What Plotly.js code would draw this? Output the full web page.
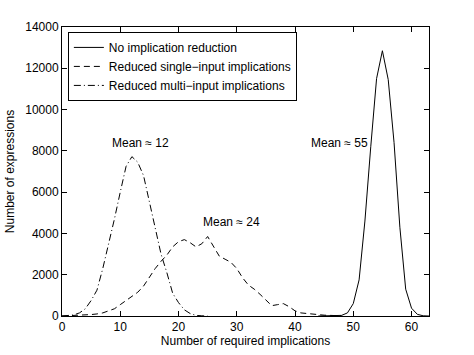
<!DOCTYPE html>
<html>
<head>
<meta charset="utf-8">
<script src="https://cdn.plot.ly/plotly-3.0.1.min.js"></script>
<style>html,body{margin:0;padding:0;background:#fff;}#chart{width:474px;height:355px;}</style>
</head>
<body>
<div id="chart"></div>
<script>
// Number of required implications (x) and number of expressions (y)
const xNoReduction = [44,45,46,47,48,49,50,51,52,53,54,55,56,57,58,59,60,61,62,63];
const yNoReduction = [0,0,0,5,30,150,600,1750,4600,8200,11500,12850,11450,8400,4300,1300,380,80,10,0];

const xSingleInput = [0,1,2,3,4,5,6,7,8,9,10,11,12,13,14,15,16,17,18,19,20,21,22,23,24,25,26,27,28,29,30,31,32,33,34,35,36,37,38,39,40,41,42,43,44,45,46,47,48];
const ySingleInput = [0,10,20,30,50,70,100,150,250,350,550,750,950,1150,1450,1900,2300,2650,2950,3350,3600,3700,3550,3350,3500,3850,3400,2900,2750,2600,2300,1850,1500,1300,1050,750,500,550,600,450,250,150,120,80,50,40,30,20,10];

const xMultiInput = [0,1,2,3,4,5,6,7,8,9,10,11,12,13,14,15,16,17,18,19,20,21,22,23,24,25];
const yMultiInput = [0,10,50,150,350,750,1250,2300,3450,4700,6000,7250,7720,7450,6800,5500,4300,3000,2100,1100,650,300,120,30,10,0];

const seriesNames = ["No implication reduction","Reduced single\u2212input implications","Reduced multi\u2212input implications"];
const meanLabels = ["Mean \u2248 12","Mean \u2248 24","Mean \u2248 55"];
const meanX = [13.5, 29.1, 47.7];
const meanY = [8380, 4550, 8380];

const xTicks = [0,10,20,30,40,50,60];
const yTicks = [0,2000,4000,6000,8000,10000,12000,14000];

const font = {family: "Liberation Sans, Arial, sans-serif", size: 12, color: "#000"};

const traces = [
  {x: xNoReduction, y: yNoReduction, name: seriesNames[0], mode: "lines",
   line: {color: "#000", width: 1, dash: "solid"}},
  {x: xSingleInput, y: ySingleInput, name: seriesNames[1], mode: "lines",
   line: {color: "#000", width: 1, dash: "6px,4px"}},
  {x: xMultiInput, y: yMultiInput, name: seriesNames[2], mode: "lines",
   line: {color: "#000", width: 1, dash: "7px,3px,1px,3px"}}
];

const layout = {
  width: 474, height: 355,
  margin: {l: 62, r: 45, t: 27, b: 39},
  paper_bgcolor: "#fff", plot_bgcolor: "#fff",
  font: font,
  showlegend: true,
  legend: {x: 0.016, y: 0.983, xanchor: "left", yanchor: "top",
    bordercolor: "#000", borderwidth: 1, bgcolor: "#fff",
    font: font, itemwidth: 30, tracegroupgap: 0},
  xaxis: {range: [0, 63], tickvals: xTicks, ticktext: xTicks.map(String),
    ticks: "inside", ticklen: 5, tickcolor: "#000", showline: true, linecolor: "#000", linewidth: 1,
    mirror: "ticks", showgrid: false, zeroline: false,
    title: {text: "Number of required implications", font: font, standoff: 3}},
  yaxis: {range: [0, 14000], tickvals: yTicks, ticktext: yTicks.map(String),
    ticks: "inside", ticklen: 5, tickcolor: "#000", showline: true, linecolor: "#000", linewidth: 1,
    mirror: "ticks", showgrid: false, zeroline: false,
    title: {text: "Number of expressions", font: font, standoff: 8}},
  annotations: meanLabels.map((t, i) => ({x: meanX[i], y: meanY[i], text: t, showarrow: false,
    xref: "x", yref: "y", font: font}))
};

Plotly.newPlot("chart", traces, layout, {displayModeBar: false, staticPlot: true});
</script>
</body>
</html>
